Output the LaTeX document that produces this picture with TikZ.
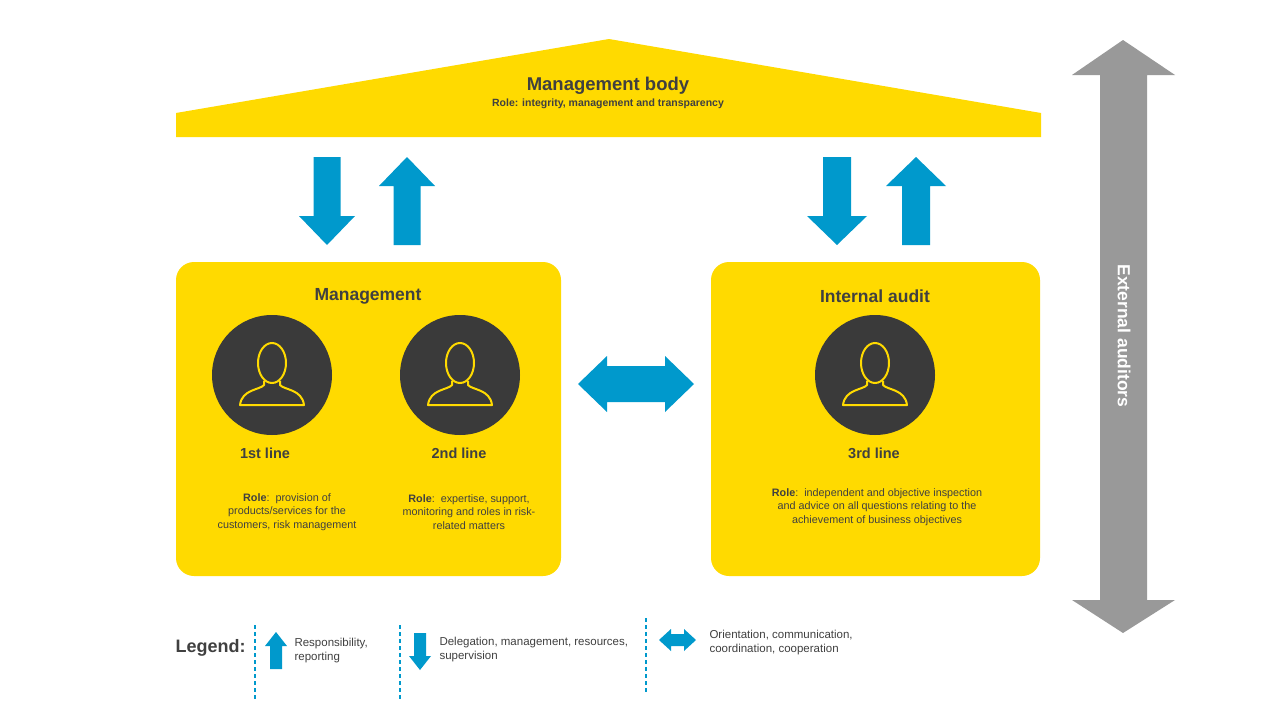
\documentclass[tikz,border=0pt]{standalone}
\usepackage{fontspec}
\setmainfont{Liberation Sans}
\definecolor{ylw}{HTML}{FFDA00}
\definecolor{blu}{HTML}{0099CC}
\definecolor{gry}{HTML}{999999}
\definecolor{drk}{HTML}{3A3A3A}
\definecolor{txt}{HTML}{404040}
\newcommand\myUp[6]{\fill[blu] (#1,#2) -- ({#1+#4},{#2+#6}) -- ({#1+#5},{#2+#6}) -- ({#1+#5},#3) -- ({#1-#5},#3) -- ({#1-#5},{#2+#6}) -- ({#1-#4},{#2+#6}) -- cycle;}
\newcommand\myDown[6]{\fill[blu] (#1,#3) -- ({#1+#4},{#3-#6}) -- ({#1+#5},{#3-#6}) -- ({#1+#5},#2) -- ({#1-#5},#2) -- ({#1-#5},{#3-#6}) -- ({#1-#4},{#3-#6}) -- cycle;}
\newcommand\myPerson[2]{%
  \fill[drk] (#1,#2) circle (60);
  \draw[ylw,line width=2pt] (#1,{#2-12}) ellipse (14 and 20);
  \draw[ylw,line width=2pt,line join=round] ({#1-8},{#2+6}) -- ({#1-8},{#2+10}) .. controls ({#1-12},{#2+15}) and ({#1-30},{#2+14}) .. ({#1-32},{#2+30}) -- ({#1+32},{#2+30}) .. controls ({#1+30},{#2+14}) and ({#1+12},{#2+15}) .. ({#1+8},{#2+10}) -- ({#1+8},{#2+6});}
\begin{document}
\begin{tikzpicture}[x=1pt,y=-1pt,
  title/.style={font=\bfseries\fontsize{17.5}{20}\selectfont,text=txt},
  lbl/.style={font=\bfseries\fontsize{14.5}{17}\selectfont,text=txt},
  role/.style={font=\fontsize{10.8}{13.5}\selectfont,text=txt,align=center},
  leg/.style={font=\fontsize{11.5}{14}\selectfont,text=txt,align=left,anchor=west},
  dsh/.style={blu,line width=1.2pt,dash pattern=on 4pt off 3pt}]
\useasboundingbox (0,0) rectangle (1280,720);
\fill[white] (0,0) rectangle (1280,720);
\fill[ylw] (176,137) -- (176,113) -- (609,39) -- (1041,113) -- (1041,137) -- cycle;
\node[font=\bfseries\fontsize{18.5}{22}\selectfont,text=txt] (mb) at (608,86) {Management body};
\node[font=\bfseries\fontsize{10.5}{12}\selectfont,text=txt] (mbr) at (608,104) {Role: integrity, management and transparency};
\myDown{327}{157}{245}{28}{13.5}{29}
\myUp{407}{157}{245}{28}{13.5}{29}
\myDown{837}{157}{245}{30}{14}{29}
\myUp{916}{157}{245}{30}{14}{29}
\fill[ylw,rounded corners=18] (176,262) rectangle (561,576);
\fill[ylw,rounded corners=18] (711,262) rectangle (1040,576);
\node[title] (m) at (368,296) {Management};
\node[title] (ia) at (875,296) {Internal audit};
\myPerson{272}{375}
\myPerson{460}{375}
\myPerson{875}{375}
\node[lbl] (l1) at (265,453) {1st line};
\node[lbl] (l2) at (459,453) {2nd line};
\node[lbl] (l3) at (874,453) {3rd line};
\node[role] (r1) at (287,512) {\textbf{Role}:\ \ provision of\\products/services for the\\customers, risk management};
\node[role] (r2) at (469,512) {\textbf{Role}:\ \ expertise, support,\\monitoring and roles in risk-\\related matters};
\node[role] (r3) at (877,507) {\textbf{Role}:\ \ independent and objective inspection\\and advice on all questions relating to the\\achievement of business objectives};
\fill[blu] (578,384) -- (607,356) -- (607,366) -- (665,366) -- (665,356) -- (694,384) -- (665,412) -- (665,402) -- (607,402) -- (607,412) -- cycle;
\fill[gry] (1123,40) -- (1175,75) -- (1147,75) -- (1147,600) -- (1175,600) -- (1123,633) -- (1072,600) -- (1100,600) -- (1100,75) -- (1072,75) -- cycle;
\node[font=\bfseries\fontsize{17.5}{20}\selectfont,text=white,rotate=-90] (ea) at (1124,336) {External auditors};
\node[font=\bfseries\fontsize{18}{20}\selectfont,text=txt,anchor=west] (lg) at (172,648) {Legend:};
\draw[dsh] (255,625) -- (255,700);
\draw[dsh] (400,625) -- (400,700);
\draw[dsh] (646,618) -- (646,693);
\myUp{276}{632}{669}{11}{6}{14}
\myDown{420}{633}{670}{11}{6}{14}
\fill[blu] (659,640) -- (671,629) -- (671,634) -- (684,634) -- (684,629) -- (696,640) -- (684,651) -- (684,646) -- (671,646) -- (671,651) -- cycle;
\node[leg] (t1) at (291,651) {Responsibility,\\reporting};
\node[leg] (t2) at (436,650) {Delegation, management, resources,\\supervision};
\node[leg] (t3) at (706,643) {Orientation, communication,\\coordination, cooperation};
\end{tikzpicture}
\end{document}
